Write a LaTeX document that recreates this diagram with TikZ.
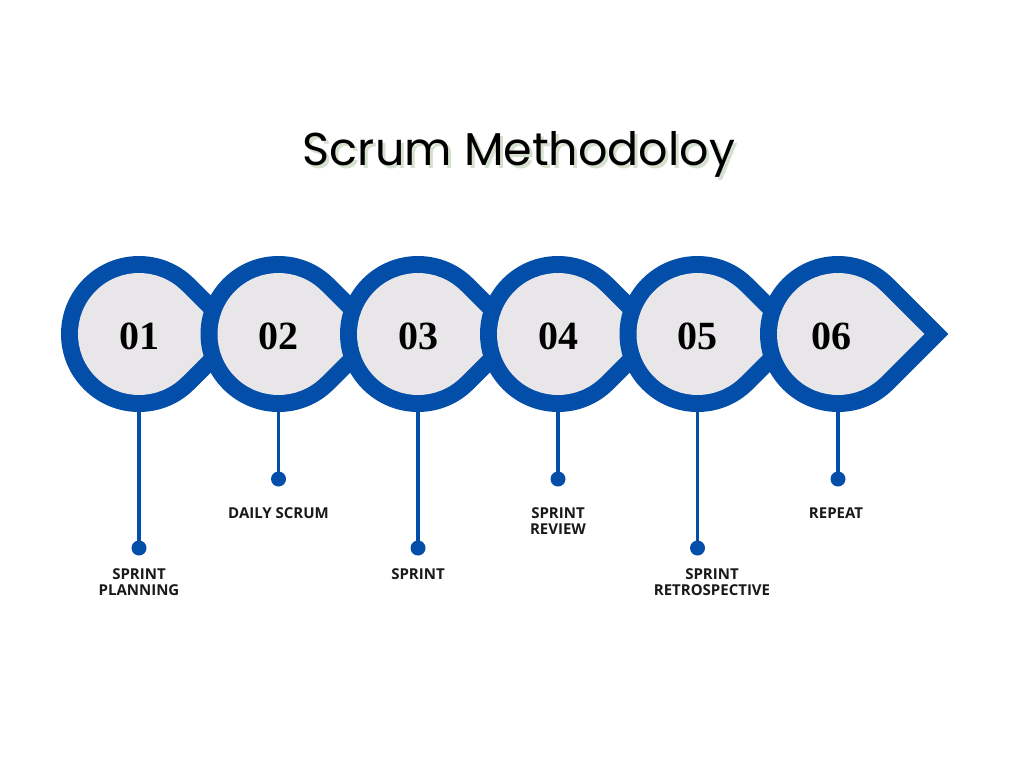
\documentclass[tikz,border=0pt]{standalone}
\usepackage{fontspec}
\setmainfont{Liberation Serif}
\newfontfamily\titlefont{Poppins}
\newfontfamily\labelfont{Open Sans}
\definecolor{ringblue}{RGB}{3,78,168}
\definecolor{innergray}{RGB}{232,230,232}
\definecolor{shadowc}{RGB}{214,224,206}
\newcommand\teardrop[4]{\fill[#1] (#2,#3) ++(-45:#4) arc[start angle=-45,end angle=-315,radius=#4] -- ++(-45:#4) -- cycle;}
\newcommand\shadowtext[1]{\makebox[0pt][l]{\hspace{3pt}\raisebox{-3pt}{\textcolor{shadowc}{#1}}}#1}
\tikzset{
  numtext/.style={anchor=base, inner sep=0pt, font=\bfseries\fontsize{40}{44}\selectfont, text=black},
  steplabel/.style={anchor=base, inner sep=0pt, align=center, font=\labelfont\bfseries\fontsize{15}{16}\selectfont, text=black!90},
  stemline/.style={draw=ringblue, line width=3.5pt},
  dotnode/.style={circle, fill=ringblue, minimum size=15pt, inner sep=0pt},
  titletext/.style={anchor=base, inner sep=0pt, font=\titlefont\fontsize{46}{56}\selectfont}
}
\begin{document}
\begin{tikzpicture}[x=1pt,y=-1pt]
\useasboundingbox[fill=white] (0,0) rectangle (1024,768);
% title
\node[titletext, text=black] (title) at (519,165) {\shadowtext{Scrum Methodoloy}};
% dots and stems
\foreach \i/\cx/\dy in {1/139/548,2/278.5/479,3/418/548,4/558/479,5/697.5/548,6/838/479}{
  \coordinate (b\i) at (\cx,405);
  \node[dotnode] (d\i) at (\cx,\dy) {};
  \draw[stemline] (b\i) -- (d\i.center);
}
% teardrops
\foreach \i/\cx in {1/139,2/278.5,3/418,4/558,5/697.5,6/838}{
  \teardrop{ringblue}{\cx}{334}{78}
  \teardrop{innergray}{\cx}{334}{61}
}
% numbers
\node[numtext] (n1) at (139,349) {01};
\node[numtext] (n2) at (278.5,349) {02};
\node[numtext] (n3) at (418,349) {03};
\node[numtext] (n4) at (558,349) {04};
\node[numtext] (n5) at (697.5,349) {05};
\node[numtext] (n6) at (831,349) {06};
% labels (base = last line baseline)
\node[steplabel] (l1) at (139,595) {SPRINT\\PLANNING};
\node[steplabel] (l2) at (278.5,518) {DAILY SCRUM};
\node[steplabel] (l3) at (418,579) {SPRINT};
\node[steplabel] (l4) at (558,534) {SPRINT\\REVIEW};
\node[steplabel] (l5) at (712,595) {SPRINT\\RETROSPECTIVE};
\node[steplabel] (l6) at (836,518) {REPEAT};
\end{tikzpicture}
\end{document}
